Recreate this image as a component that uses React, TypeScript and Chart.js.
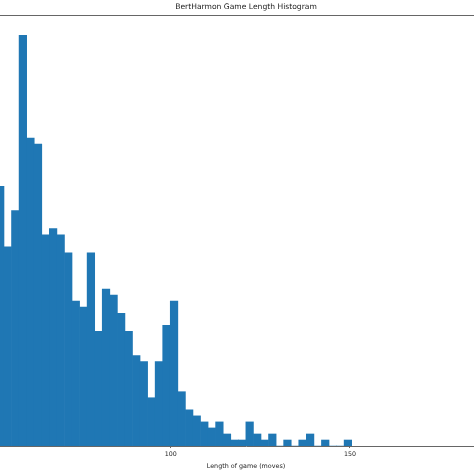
import React, { useEffect, useRef } from "react";
import { Chart, registerables } from "chart.js";

Chart.register(...registerables);

// ---- Data ----
const TITLE = "BertHarmon Game Length Histogram";
const X_LABEL = "Length of game (moves)";
// histogram bins: left edge of first visible bin and bin width (moves)
const BIN_START = 51.4;
const BIN_WIDTH = 2.108;
// game counts per bin
const COUNTS = [
  43, 33, 39, 68, 51, 50, 35, 36, 35, 32, 24, 23, 32, 19, 26, 25, 22, 19, 15, 14,
  8, 14, 20, 24, 9, 6, 5, 4, 3, 4, 2, 1, 1, 4, 2, 1, 2, 0, 1, 0, 1, 2, 0, 1, 0, 0, 1,
];
const X_TICKS = [100, 150];
const X_MIN = 46.82;
const X_MAX = 195.18;
const Y_MAX = 71.4;

const BAR_COLOR = "#1f77b4";
const SPINE_COLOR = "#666666";
const TEXT_COLOR = "#222222";
const FONT = "'DejaVu Sans', sans-serif";

const W = 532;
const H = 474;

const topSpine = {
  id: "topSpine",
  afterDraw(chart: any) {
    const { ctx, chartArea } = chart;
    ctx.save();
    ctx.strokeStyle = SPINE_COLOR;
    ctx.lineWidth = 1;
    const y = Math.round(chartArea.top) + 0.5;
    ctx.beginPath();
    ctx.moveTo(chartArea.left, y);
    ctx.lineTo(chartArea.right, y);
    ctx.stroke();
    ctx.restore();
  },
};

export default function App() {
  const canvasRef = useRef<HTMLCanvasElement | null>(null);

  useEffect(() => {
    document.body.style.overflow = "hidden";
    const canvas = canvasRef.current;
    if (!canvas) return;
    const points = COUNTS.map((c, i) => ({ x: BIN_START + (i + 0.5) * BIN_WIDTH, y: c }));
    const chart = new Chart(canvas, {
      type: "bar",
      data: {
        datasets: [
          {
            data: points as any,
            backgroundColor: BAR_COLOR,
            borderWidth: 0,
            barPercentage: 1,
            categoryPercentage: 1,
          },
        ],
      },
      options: {
        animation: false,
        responsive: false,
        devicePixelRatio: 1,
        layout: { padding: 0 },
        plugins: {
          legend: { display: false },
          tooltip: { enabled: false },
          title: {
            display: true,
            text: TITLE,
            color: TEXT_COLOR,
            font: { family: FONT, size: 7.6, weight: "normal", lineHeight: 1.2 },
            padding: { top: 2.6, bottom: 3.2 },
          },
        },
        scales: {
          x: {
            type: "linear",
            min: X_MIN,
            max: X_MAX,
            offset: false,
            afterBuildTicks: (axis: any) => {
              axis.ticks = X_TICKS.map((v) => ({ value: v }));
            },
            grid: {
              display: true,
              offset: false,
              drawOnChartArea: false,
              drawTicks: true,
              tickLength: 2,
              color: SPINE_COLOR,
            },
            border: { display: true, color: SPINE_COLOR, width: 1, z: 1 },
            ticks: {
              autoSkip: false,
              maxRotation: 0,
              padding: 3,
              color: TEXT_COLOR,
              font: { family: FONT, size: 6.3, lineHeight: 1.2 },
              callback: (v: any) => String(v),
            },
            title: {
              display: true,
              text: X_LABEL,
              color: TEXT_COLOR,
              font: { family: FONT, size: 6.4, lineHeight: 1.2 },
              padding: { top: 1.2, bottom: 3.5 },
            },
          },
          y: {
            display: false,
            min: 0,
            max: Y_MAX,
          },
        },
      },
      plugins: [topSpine],
    });
    return () => chart.destroy();
  }, []);

  return (
    <div
      style={{
        position: "fixed",
        left: -20,
        top: 0,
        width: W,
        height: H,
        background: "#ffffff",
      }}
    >
      <canvas ref={canvasRef} width={W} height={H} style={{ width: W, height: H, display: "block" }} />
    </div>
  );
}
